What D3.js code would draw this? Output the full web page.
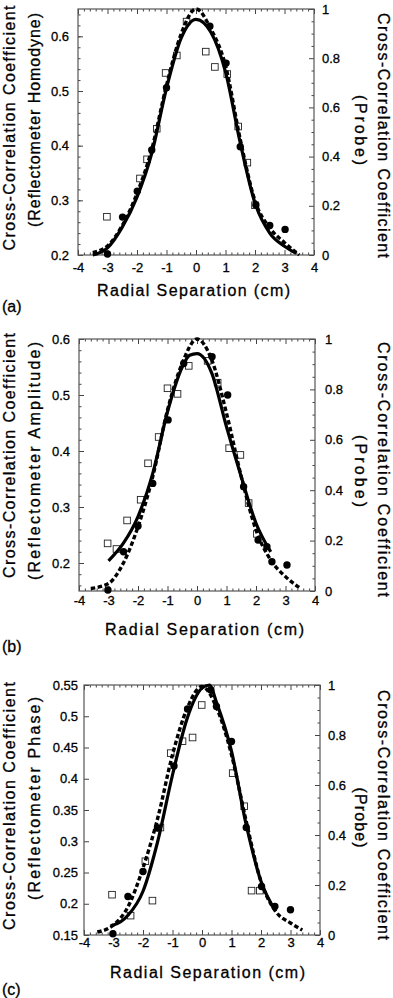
<!DOCTYPE html>
<html>
<head>
<meta charset="utf-8">
<script src="https://cdn.jsdelivr.net/npm/d3@7"></script>
<style>
  body { margin: 0; background: #fff; }
  text { font-family: "Liberation Sans", Arial, sans-serif; fill: #000; stroke: #000; stroke-width: 0.3px; }
</style>
</head>
<body>
<svg id="chart"></svg>
<script>
const WIDTH = 393;
const HEIGHT = 998;

// shared axes
const radialTicks = [-4, -3, -2, -1, 0, 1, 2, 3, 4];
const probeTicks = [0, 0.2, 0.4, 0.6, 0.8, 1];

// (a) reflectometer homodyne
const homodyneTicks = [0.2, 0.3, 0.4, 0.5, 0.6];
const homodyneSquareX = [-3.02, -1.90, -1.66, -1.33, -1.03, -0.65, -0.32, 0.33, 0.64, 1.06, 1.43, 1.74, 2.0];
const homodyneSquareY = [0.270, 0.340, 0.375, 0.431, 0.533, 0.565, 0.627, 0.572, 0.544, 0.531, 0.435, 0.369, 0.291];
const homodyneProbeX = [-3.0, -2.49, -1.99, -1.5, -1.0, 0.47, 1.02, 1.5, 2.03, 2.5, 3.02];
const homodyneProbeY = [0.004, 0.154, 0.259, 0.427, 0.68, 0.93, 0.78, 0.44, 0.203, 0.12, 0.104];
const homodyneFitX = [-3.5, -3, -2.5, -2, -1.5, -1, -0.5, 0, 0.5, 1, 1.5, 2, 2.5, 3, 3.4];
const homodyneFitY = [0.200, 0.213, 0.251, 0.306, 0.386, 0.505, 0.597, 0.631, 0.608, 0.535, 0.405, 0.295, 0.240, 0.216, 0.203];
const homodyneProbeFitX = [-3.5, -3, -2.5, -2, -1.5, -1, -0.5, 0, 0.5, 1, 1.5, 2, 2.5, 3, 3.5];
const homodyneProbeFitY = [0.01, 0.037, 0.12, 0.25, 0.43, 0.69, 0.9, 1.0, 0.92, 0.77, 0.47, 0.22, 0.11, 0.05, 0.0];

// (b) reflectometer amplitude
const amplitudeTicks = [0.2, 0.3, 0.4, 0.5, 0.6];
const amplitudeSquareX = [-3.03, -2.73, -2.37, -1.91, -1.66, -1.30, -1.0, -0.66, -0.28, 0.36, 0.70, 1.09, 1.47, 1.75, 2.03];
const amplitudeSquareY = [0.235, 0.225, 0.276, 0.313, 0.378, 0.425, 0.512, 0.502, 0.552, 0.561, 0.522, 0.405, 0.393, 0.307, 0.252];
const amplitudeProbeX = [-3.02, -2.49, -2.0, -1.5, -0.98, -0.45, 0.51, 1.04, 1.58, 2.07, 2.37, 2.54, 3.05];
const amplitudeProbeY = [0.004, 0.156, 0.258, 0.427, 0.679, 0.903, 0.93, 0.778, 0.414, 0.202, 0.176, 0.116, 0.103];
const amplitudeFitX = [-3, -2.5, -2, -1.5, -1, -0.5, -0.25, 0, 0.25, 0.5, 1, 1.5, 2, 2.5];
const amplitudeFitY = [0.204, 0.235, 0.283, 0.360, 0.470, 0.550, 0.571, 0.574, 0.565, 0.539, 0.443, 0.354, 0.271, 0.220];
const amplitudeProbeFitX = [-3.6, -3, -2.5, -2, -1.5, -1, -0.5, 0, 0.5, 1, 1.5, 2, 2.5, 3, 3.5];
const amplitudeProbeFitY = [0.01, 0.03, 0.11, 0.255, 0.454, 0.718, 0.904, 1.0, 0.917, 0.705, 0.454, 0.242, 0.123, 0.057, 0.011];

// (c) reflectometer phase
const phaseTicks = [0.15, 0.2, 0.25, 0.3, 0.35, 0.4, 0.45, 0.5, 0.55];
const phaseSquareX = [-3.05, -2.42, -1.92, -1.68, -1.41, -1.06, -0.66, -0.32, -0.01, 1.04, 1.43, 1.68, 1.96];
const phaseSquareY = [0.2145, 0.181, 0.268, 0.205, 0.322, 0.441, 0.460, 0.466, 0.518, 0.409, 0.356, 0.221, 0.221];
const phaseProbeX = [-3.02, -2.51, -2.0, -1.51, -0.95, -0.49, 0.3, 0.49, 1.0, 1.5, 2.02, 2.47, 3.0];
const phaseProbeY = [0.005, 0.154, 0.254, 0.428, 0.676, 0.904, 0.98, 0.914, 0.774, 0.43, 0.194, 0.114, 0.101];
const phaseFitX = [-3.1, -3, -2.5, -2, -1.5, -1, -0.5, 0, 0.25, 0.5, 1, 1.5, 2, 2.5];
const phaseFitY = [0.165, 0.166, 0.182, 0.220, 0.300, 0.406, 0.497, 0.545, 0.550, 0.521, 0.444, 0.326, 0.236, 0.188];
const phaseProbeFitX = [-3.55, -3, -2.5, -2, -1.5, -1, -0.5, 0, 0.5, 1, 1.5, 2, 2.5, 3, 3.4];
const phaseProbeFitY = [0.012, 0.04, 0.115, 0.268, 0.468, 0.721, 0.908, 0.994, 0.908, 0.721, 0.454, 0.214, 0.094, 0.048, 0.02];

const zip = (xs, ys) => xs.map((v, i) => [v, ys[i]]);

const panels = [
  {
    tag: "(a)", subtitle: "(Reflectometer Homodyne)",
    x0: 78, x1: 314, y0: 9, y1: 255,
    leftDomain: [0.2, 0.65], leftTicks: homodyneTicks, leftMinor: d3.range(0.22, 0.65, 0.02),
    squares: zip(homodyneSquareX, homodyneSquareY), probe: zip(homodyneProbeX, homodyneProbeY),
    fit: zip(homodyneFitX, homodyneFitY), probeFit: zip(homodyneProbeFitX, homodyneProbeFitY),
    leftPad: 9, rightPad: 8, xLabelY: 17,
    t1: [15, 128, 245], t2: [40, 120, 214], r1: [378, 135.5, 245], r2: [355, 130, 70],
    xt: [193.5, 296, 193], tagY: 312
  },
  {
    tag: "(b)", subtitle: "(Reflectometer Amplitude)",
    x0: 79, x1: 315, y0: 339, y1: 591,
    leftDomain: [0.15, 0.6], leftTicks: amplitudeTicks, leftMinor: d3.range(0.16, 0.6, 0.02),
    squares: zip(amplitudeSquareX, amplitudeSquareY), probe: zip(amplitudeProbeX, amplitudeProbeY),
    fit: zip(amplitudeFitX, amplitudeFitY), probeFit: zip(amplitudeProbeFitX, amplitudeProbeFitY),
    leftPad: 9, rightPad: 10, xLabelY: 14,
    t1: [15, 455.5, 245], t2: [40, 461, 238], r1: [378, 469.5, 255], r2: [355, 471, 72],
    xt: [204.5, 635, 199], tagY: 652
  },
  {
    tag: "(c)", subtitle: "(Reflectometer Phase)",
    x0: 84, x1: 320, y0: 685, y1: 935,
    leftDomain: [0.15, 0.55], leftTicks: phaseTicks, leftMinor: [],
    squares: zip(phaseSquareX, phaseSquareY), probe: zip(phaseProbeX, phaseProbeY),
    fit: zip(phaseFitX, phaseFitY), probeFit: zip(phaseProbeFitX, phaseProbeFitY),
    leftPad: 6, rightPad: 8, xLabelY: 12,
    t1: [15, 806, 248], t2: [40, 798.5, 203], r1: [378, 815, 250], r2: [355, 817.5, 60],
    xt: [207.5, 978, 195], tagY: 995
  }
];

const svg = d3.select("#chart").attr("width", WIDTH).attr("height", HEIGHT);
const fmt = d => String(+d.toFixed(2));

panels.forEach(p => drawPanel(p));

function styleAxis(g) {
  g.select(".domain").remove();
  g.selectAll("line").attr("stroke", "#444");
  g.attr("font-size", 13);
}

function drawPanel(p) {
  const x = d3.scaleLinear().domain([-4, 4]).range([p.x0, p.x1]);
  const yL = d3.scaleLinear().domain(p.leftDomain).range([p.y1, p.y0]);
  const yR = d3.scaleLinear().domain([0, 1]).range([p.y1, p.y0]);
  const g = svg.append("g");

  const xMinor = d3.range(-3.8, 4, 0.2).filter(v => Math.abs(v - Math.round(v)) > 0.01);
  const rMinor = d3.range(0.05, 1, 0.05).filter(v => Math.abs(v * 5 - Math.round(v * 5)) > 0.01);

  // bottom
  g.append("g").attr("transform", `translate(0,${p.y1})`)
    .call(d3.axisBottom(x).tickValues(radialTicks).tickSize(-5).tickFormat(String))
    .call(styleAxis)
    .call(a => a.selectAll("text").attr("y", p.xLabelY).attr("dy", null));
  g.append("g").attr("transform", `translate(0,${p.y1})`)
    .call(d3.axisBottom(x).tickValues(xMinor).tickSize(-2.5).tickFormat(""))
    .call(styleAxis);
  // top
  g.append("g").attr("transform", `translate(0,${p.y0})`)
    .call(d3.axisTop(x).tickValues(radialTicks).tickSize(-5).tickFormat(""))
    .call(styleAxis);
  g.append("g").attr("transform", `translate(0,${p.y0})`)
    .call(d3.axisTop(x).tickValues(xMinor).tickSize(-2.5).tickFormat(""))
    .call(styleAxis);
  // left
  g.append("g").attr("transform", `translate(${p.x0},0)`)
    .call(d3.axisLeft(yL).tickValues(p.leftTicks).tickSize(-5).tickPadding(p.leftPad).tickFormat(fmt))
    .call(styleAxis);
  g.append("g").attr("transform", `translate(${p.x0},0)`)
    .call(d3.axisLeft(yL).tickValues(p.leftMinor).tickSize(-2.5).tickFormat(""))
    .call(styleAxis);
  // right
  g.append("g").attr("transform", `translate(${p.x1},0)`)
    .call(d3.axisRight(yR).tickValues(probeTicks).tickSize(-5).tickPadding(p.rightPad).tickFormat(fmt))
    .call(styleAxis);
  g.append("g").attr("transform", `translate(${p.x1},0)`)
    .call(d3.axisRight(yR).tickValues(rMinor).tickSize(-2.5).tickFormat(""))
    .call(styleAxis);

  g.append("rect")
    .attr("x", p.x0).attr("y", p.y0)
    .attr("width", p.x1 - p.x0).attr("height", p.y1 - p.y0)
    .attr("fill", "none").attr("stroke", "#555").attr("stroke-width", 1.2);

  // reflectometer data (open squares)
  g.selectAll(".sq").data(p.squares).enter().append("rect")
    .attr("x", d => x(d[0]) - 3.3).attr("y", d => yL(d[1]) - 3.3)
    .attr("width", 6.6).attr("height", 6.6)
    .attr("fill", "#fff").attr("stroke", "#222").attr("stroke-width", 0.9);

  // fits
  g.append("path").datum(p.fit)
    .attr("d", d3.line().x(d => x(d[0])).y(d => yL(d[1])).curve(d3.curveMonotoneX))
    .attr("fill", "none").attr("stroke", "#000").attr("stroke-width", 3.2);
  g.append("path").datum(p.probeFit)
    .attr("d", d3.line().x(d => x(d[0])).y(d => yR(d[1])).curve(d3.curveMonotoneX))
    .attr("fill", "none").attr("stroke", "#000").attr("stroke-width", 3.4)
    .attr("stroke-dasharray", "4.5,2.5");

  // probe data (filled circles)
  g.selectAll(".pc").data(p.probe).enter().append("circle")
    .attr("cx", d => x(d[0])).attr("cy", d => yR(d[1])).attr("r", 3.7)
    .attr("fill", "#000");

  // titles
  const title = (txt, pos, rot, size) => g.append("text")
    .attr("transform", `translate(${pos[0]},${pos[1]}) rotate(${rot})`)
    .attr("text-anchor", "middle").attr("font-size", size)
    .attr("textLength", pos[2]).attr("lengthAdjust", "spacing")
    .text(txt);
  title("Cross-Correlation Coefficient", p.t1, -90, 16);
  title(p.subtitle, p.t2, -90, 16);
  title("Cross-Correlation Coefficient", p.r1, 90, 16);
  title("(Probe)", p.r2, 90, 16);
  title("Radial Separation (cm)", p.xt, 0, 16);

  g.append("text").attr("x", 2).attr("y", p.tagY).attr("font-size", 16).text(p.tag);
}
</script>
</body>
</html>
